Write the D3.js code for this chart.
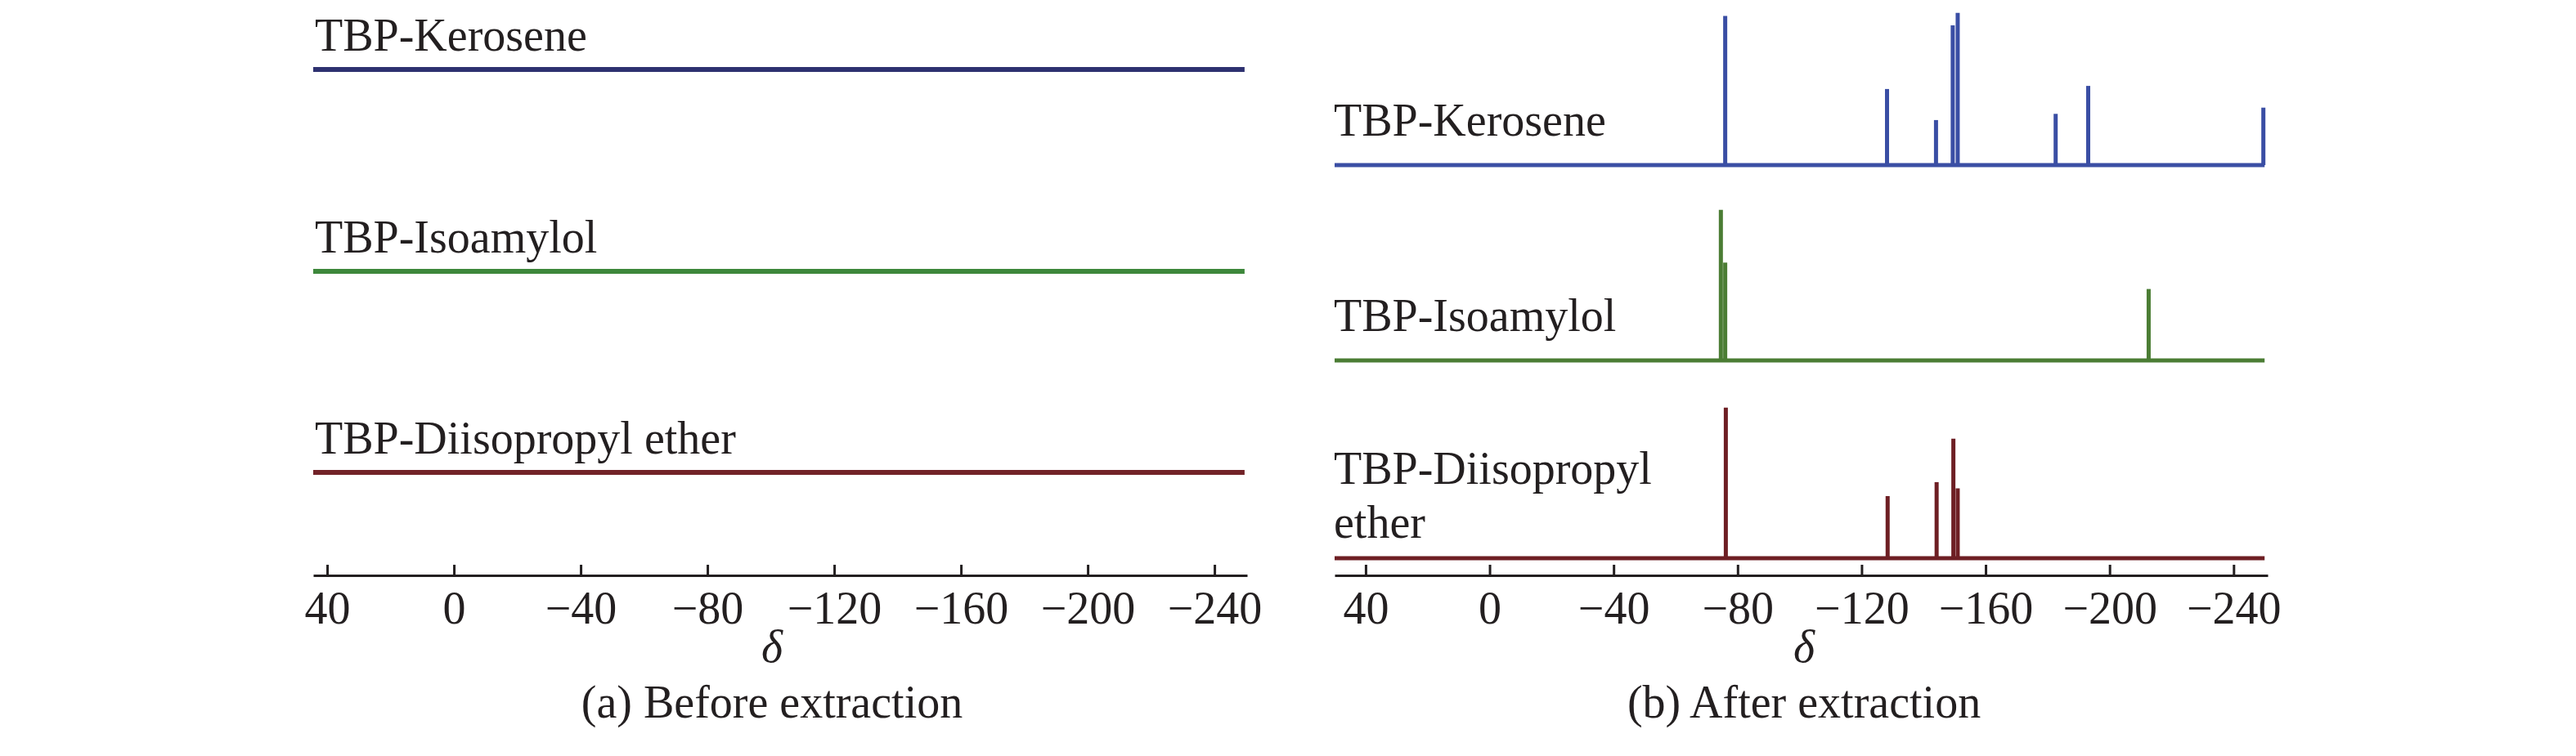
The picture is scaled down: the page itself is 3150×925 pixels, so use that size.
<!DOCTYPE html>
<html>
<head>
<meta charset="utf-8">
<script src="https://cdn.jsdelivr.net/npm/d3@7"></script>
<style>
  body { margin: 0; background: #fff; }
  text { font-family: "Liberation Serif", "Times New Roman", serif; fill: #231f20; }
</style>
</head>
<body>
<script>
const width = 3150;
const height = 925;

// series names (top to bottom)
const series = ["TBP-Kerosene", "TBP-Isoamylol", "TBP-Diisopropyl ether"];
const seriesRight = [["TBP-Kerosene"], ["TBP-Isoamylol"], ["TBP-Diisopropyl", "ether"]];

// chemical shifts and relative intensities after extraction
const keroseneShift = [-76.0, -128.2, -144.0, -149.4, -151.0, -182.6, -193.1, -249.6];
const keroseneInt   = [0.96, 0.49, 0.29, 0.90, 0.98, 0.33, 0.51, 0.37];
const isoamylolShift = [-74.6, -76.0, -212.6];
const isoamylolInt   = [0.97, 0.63, 0.46];
const etherShift = [-76.2, -128.4, -144.2, -149.6, -151.0];
const etherInt   = [0.97, 0.40, 0.49, 0.77, 0.45];

const tickValues = [40, 0, -40, -80, -120, -160, -200, -240];

const leftColors  = ["#2e3170", "#3d873b", "#722328"];
const rightColors = ["#3a4ea4", "#4b7d34", "#6e1f24"];

const svg = d3.select("body").append("svg")
    .attr("width", width)
    .attr("height", height);

const xLeft = d3.scaleLinear().domain([44.4, -250.3]).range([383, 1525]);
const xRight = d3.scaleLinear().domain([50, -251]).range([1632, 2773]);

const leftBase = [85, 332, 578];
const rightBase = [202, 441, 683];
const peakScale = 190;

// ---- (a) before extraction: flat lines
series.forEach(function(name, i){
  let y = d3.scaleLinear().domain([0, 1]).range([leftBase[i], leftBase[i] - peakScale]);
  let line = d3.line().x(d => xLeft(d[0])).y(d => y(d[1]));
  svg.append("path")
     .attr("d", line([[44.4, 0], [-249.5, 0]]))
     .attr("fill", "none")
     .attr("stroke", leftColors[i])
     .attr("stroke-width", 6);
  svg.append("text")
     .attr("x", 385)
     .attr("y", leftBase[i] - 23)
     .attr("font-size", 56)
     .text(name);
});

// ---- (b) after extraction: stick spectra
const shifts = [keroseneShift, isoamylolShift, etherShift];
const ints = [keroseneInt, isoamylolInt, etherInt];

seriesRight.forEach(function(lines, i){
  let y = d3.scaleLinear().domain([0, 1]).range([rightBase[i], rightBase[i] - peakScale]);
  let line = d3.line().x(d => xRight(d[0])).y(d => y(d[1]));
  let g = svg.append("g").attr("stroke", rightColors[i]).attr("fill", "none");
  g.append("path")
   .attr("d", line([[50, 0], [-250, 0]]))
   .attr("stroke-width", 5);
  g.selectAll("line.peak")
   .data(shifts[i].map((s, k) => [s, ints[i][k]]))
   .join("line")
   .attr("class", "peak")
   .attr("x1", d => xRight(d[0]))
   .attr("x2", d => xRight(d[0]))
   .attr("y1", y(0))
   .attr("y2", d => y(d[1]))
   .attr("stroke-width", 5);
  let first = i == 2 ? rightBase[i] - 91 : rightBase[i] - 36;
  lines.forEach(function(t, k){
    svg.append("text")
       .attr("x", 1631)
       .attr("y", first + k * 66)
       .attr("font-size", 56)
       .text(t);
  });
});

// ---- axes
let draw_axis = function(scale, cx, caption){
  let ax = svg.append("g")
     .attr("transform", "translate(0,704)")
     .call(d3.axisBottom(scale).tickValues(tickValues).tickSizeInner(-13).tickSizeOuter(0))
     .attr("font-family", "Liberation Serif");
  ax.select(".domain").attr("stroke", "#231f20").attr("stroke-width", 3);
  ax.selectAll(".tick line").attr("stroke", "#231f20").attr("stroke-width", 3);
  ax.selectAll(".tick text")
    .attr("y", 59)
    .attr("dy", null)
    .attr("font-size", 56)
    .attr("fill", "#231f20");
  svg.append("text")
     .attr("x", cx)
     .attr("y", 810)
     .attr("text-anchor", "middle")
     .attr("font-size", 56)
     .attr("font-style", "italic")
     .text("δ");
  svg.append("text")
     .attr("x", cx)
     .attr("y", 878)
     .attr("text-anchor", "middle")
     .attr("font-size", 56)
     .text(caption);
}
draw_axis(xLeft, 944, "(a) Before extraction");
draw_axis(xRight, 2206, "(b) After extraction");
</script>
</body>
</html>
